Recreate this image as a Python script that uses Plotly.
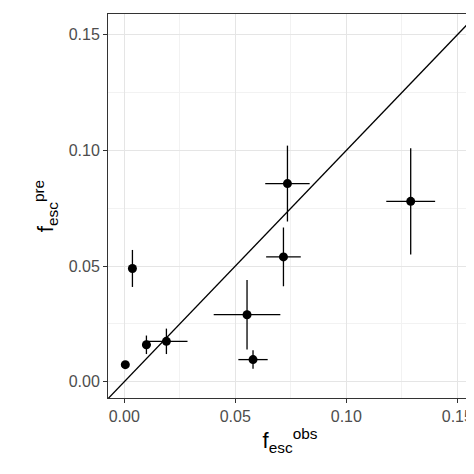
import plotly.graph_objects as go

f_obs = [0.0005, 0.0037, 0.010, 0.019, 0.0553, 0.058, 0.0717, 0.0735, 0.129]
f_pre = [0.0074, 0.049, 0.016, 0.0175, 0.029, 0.0096, 0.054, 0.0857, 0.078]
obs_err = [0, 0, 0.002, 0.0095, 0.015, 0.0066, 0.0078, 0.010, 0.011]
pre_err = [0, 0.008, 0.004, 0.0055, 0.015, 0.004, 0.0127, 0.0164, 0.023]

fig = go.Figure()
fig.add_trace(go.Scatter(x=[-0.01, 0.17], y=[-0.01, 0.17], mode="lines",
                         line=dict(color="black", width=1.3), hoverinfo="skip"))
fig.add_trace(go.Scatter(
    x=f_obs, y=f_pre, mode="markers",
    marker=dict(color="black", size=9),
    error_x=dict(type="data", array=obs_err, color="black", thickness=1.3, width=0),
    error_y=dict(type="data", array=pre_err, color="black", thickness=1.3, width=0),
))

ax = dict(showline=True, mirror=True, linecolor="#333333", linewidth=1,
          gridcolor="#e5e5e5", gridwidth=1, zeroline=False, ticks="outside",
          ticklen=4, tickcolor="#333333", tickvals=[0, 0.05, 0.1, 0.15],
          ticktext=["0.00", "0.05", "0.10", "0.15"],
          tickfont=dict(size=16, color="#4d4d4d"),
          minor=dict(showgrid=True, gridcolor="#f2f2f2", tickvals=[0.025, 0.075, 0.125]))
fig.update_layout(
    width=474, height=474, showlegend=False,
    plot_bgcolor="white", paper_bgcolor="white",
    font=dict(family="Liberation Sans, Arial", color="black"),
    margin=dict(l=100, r=10, t=6, b=84),
    xaxis=dict(ax, range=[-0.0073, 0.1566],
               title=dict(text="f<sub>esc</sub><sup>obs</sup>", font=dict(size=22), standoff=8)),
    yaxis=dict(ax, range=[-0.007, 0.159],
               title=dict(text="f<sub>esc</sub><sup>pre</sup>", font=dict(size=22), standoff=8)),
)
fig.write_html("out.html")
